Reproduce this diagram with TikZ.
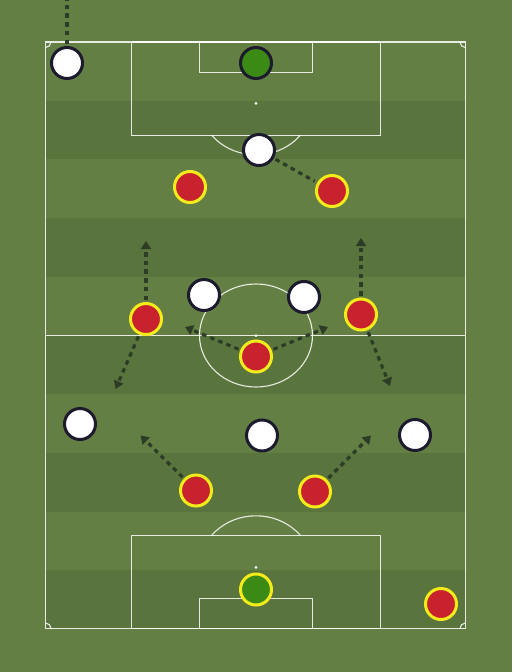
\documentclass[tikz,border=0pt]{standalone}
\usetikzlibrary{arrows.meta,shadows}
\definecolor{grassL}{HTML}{637F43}
\definecolor{grassD}{HTML}{5A743E}
\definecolor{navy}{HTML}{1C1B2E}
\definecolor{redkit}{HTML}{C8222E}
\definecolor{yellowkit}{HTML}{F4EC1A}
\definecolor{gkgreen}{HTML}{3C8A16}
\definecolor{runcol}{HTML}{2D3C27}
\tikzset{
  pitchline/.style={draw=white, draw opacity=0.85, line width=1.1pt},
  player/.style={circle, minimum size=31pt, inner sep=0pt, line width=3pt,
    drop shadow={shadow xshift=1pt, shadow yshift=-1.5pt, opacity=0.35}},
  whitep/.style={player, draw=navy, fill=white},
  whitegk/.style={player, draw=navy, fill=gkgreen},
  redp/.style={player, draw=yellowkit, fill=redkit},
  redgk/.style={player, draw=yellowkit, fill=gkgreen},
  runline/.style={draw=runcol, line width=3.2pt, dash pattern=on 4.5pt off 4.2pt, shorten <=2pt},
  runarrow/.style={runline, -{Triangle[length=8pt,width=10pt]}},
}
\begin{document}
\begin{tikzpicture}[x=1pt,y=-1pt]
\useasboundingbox (0,0) rectangle (512,672);
\fill[grassL] (0,0) rectangle (512,672);
% stripes
\foreach \i in {1,3,5,7,9} {
  \fill[grassD] (45.5,{42+\i*58.7}) rectangle (465.5,{42+(\i+1)*58.7});
}
% pitch outline and halfway
\draw[pitchline] (45.5,42) rectangle (465.5,628.5);
\draw[pitchline] (45.5,335.5) -- (465.5,335.5);
\draw[pitchline] (256,335.5) ellipse [x radius=56.5, y radius=51.5];
\fill[white] (256,335.5) circle (1.5);
% top area
\draw[pitchline] (131.5,42) rectangle (380.5,135.3);
\draw[pitchline] (199.5,42) rectangle (312.5,72.5);
\fill[white] (256,103.3) circle (1.5);
\begin{scope}
  \clip (100,135.3) rectangle (400,200);
  \draw[pitchline] (256,103.3) ellipse [x radius=56.5, y radius=51.5];
\end{scope}
% bottom area
\draw[pitchline] (131.5,535.8) rectangle (380.5,628.5);
\draw[pitchline] (199.5,598.3) rectangle (312.5,628.5);
\fill[white] (256,567.3) circle (1.5);
\begin{scope}
  \clip (100,470) rectangle (400,535.8);
  \draw[pitchline] (256,567.3) ellipse [x radius=56.5, y radius=51.5];
\end{scope}
% corner arcs
\begin{scope}
  \clip (45.5,42) rectangle (465.5,628.5);
  \draw[pitchline] (45.5,42) circle (5.5);
  \draw[pitchline] (465.5,42) circle (5.5);
  \draw[pitchline] (45.5,628.5) circle (5.5);
  \draw[pitchline] (465.5,628.5) circle (5.5);
\end{scope}
% run target coordinates
\coordinate (t0) at (67,-4);
\coordinate (t1) at (146,241);
\coordinate (t2) at (361,238);
\coordinate (t3) at (185,327);
\coordinate (t4) at (328,327);
\coordinate (t5) at (115.5,389);
\coordinate (t6) at (390,386);
\coordinate (t7) at (140.5,435.5);
\coordinate (t8) at (371,435.5);
% white team
\node[whitep] (w1) at (67,63) {};
\node[whitegk] (wgk) at (256,63) {};
\node[whitep] (w2) at (259,150) {};
\node[whitep] (w3) at (204,295) {};
\node[whitep] (w4) at (304,297) {};
\node[whitep] (w5) at (80,424) {};
\node[whitep] (w6) at (262,435.5) {};
\node[whitep] (w7) at (415,435) {};
% red team
\node[redp] (r1) at (190,187) {};
\node[redp] (r2) at (332,191) {};
\node[redp] (r3) at (146,319) {};
\node[redp] (r4) at (361,314.5) {};
\node[redp] (r5) at (256,356.5) {};
\node[redp] (r6) at (196,490.5) {};
\node[redp] (r7) at (315,491.5) {};
\node[redgk] (rgk) at (256,589.5) {};
\node[redp] (r8) at (441,604) {};
% runs
\draw[runline] (w1) -- (t0);
\draw[runline, shorten >=3pt] (w2) -- (r2);
\draw[runarrow] (r3) -- (t1);
\draw[runarrow] (r3) -- (t5);
\draw[runarrow] (r4) -- (t2);
\draw[runarrow] (r4) -- (t6);
\draw[runarrow] (r5) -- (t3);
\draw[runarrow] (r5) -- (t4);
\draw[runarrow] (r6) -- (t7);
\draw[runarrow] (r7) -- (t8);
\end{tikzpicture}
\end{document}
